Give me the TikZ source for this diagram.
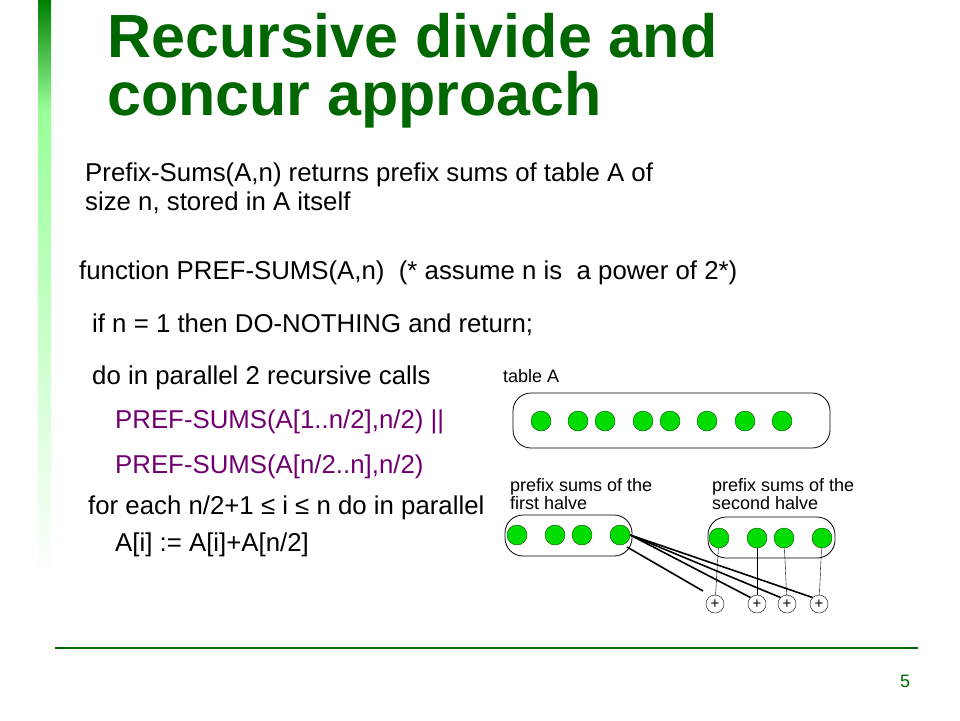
\documentclass[tikz,border=0pt]{standalone}
\usepackage{fontspec}
\setmainfont{Liberation Sans}
\definecolor{tgreen}{RGB}{0,102,0}
\definecolor{pur}{RGB}{112,0,112}
\definecolor{dotg}{RGB}{0,220,0}
\begin{document}
\begin{tikzpicture}[x=1pt,y=-1pt,
  txt/.style={anchor=west,inner sep=0,font=\fontsize{25.8}{28}\selectfont},
  dot/.style={circle,draw=black!70!green,fill=dotg,minimum size=20pt,inner sep=0},
  pl/.style={circle,draw,fill=white,minimum size=18pt,inner sep=0,font=\fontsize{15}{15}\selectfont},
  box/.style={draw,rounded corners=18pt,line width=0.8pt},
  small/.style={anchor=west,inner sep=0,font=\fontsize{18}{18}\selectfont},
  link/.style={line width=1.6pt}]
\useasboundingbox (0,0) rectangle (960,720);
\fill[top color=green!50!black, bottom color=green!40] (38,0) rectangle (51,110);
\fill[top color=green!40, bottom color=white] (38,110) rectangle (51,580);
\node[anchor=west,inner sep=0,text=tgreen,font=\fontsize{61}{61}\selectfont\bfseries] (t1) at (107,36) {Recursive divide and};
\node[anchor=west,inner sep=0,text=tgreen,font=\fontsize{61}{61}\selectfont\bfseries] (t2) at (107,100) {concur approach};
\node[txt] (l1) at (85,175) {Prefix-Sums(A,n) returns prefix sums of table A of};
\node[txt] (l2) at (85,203) {size n, stored in A itself};
\node[txt] (l3) at (79,273) {function PREF-SUMS(A,n)\ \ (* assume n is\ \ a power of 2*)};
\node[txt] (l4) at (92,325) {if n = 1 then DO-NOTHING and return;};
\node[txt] (l5) at (92,378) {do in parallel 2 recursive calls};
\node[txt,text=pur] (l6) at (115,422) {PREF-SUMS(A[1..n/2],n/2) ||};
\node[txt,text=pur] (l7) at (115,467) {PREF-SUMS(A[n/2..n],n/2)};
\node[txt] (l8) at (88,508) {for each n/2+1 ≤ i ≤ n do in parallel};
\node[txt] (l9) at (115,545) {A[i] := A[i]+A[n/2]};
\draw[tgreen,line width=2.5pt] (55,648) -- (918,648);
\node[inner sep=0,font=\fontsize{18}{18}\selectfont,text=tgreen] (pg) at (905,681) {5};
% diagram
\node[small] (ta) at (503,376) {table A};
\draw[box] (513,393) rectangle (830,448);
\foreach \x [count=\i] in {541,578,605,643,670,707,745,782} \node[dot] (a\i) at (\x,421) {};
\node[small,align=left,anchor=north west] (fh) at (510,478) {prefix sums of the\\first halve};
\node[small,align=left,anchor=north west] (sh) at (712,478) {prefix sums of the\\second halve};
\draw[box] (505,515) rectangle (632,556);
\draw[box] (708,517) rectangle (835,558);
\foreach \x [count=\i] in {517,555,582,620} \node[dot] (f\i) at (\x,535) {};
\foreach \x [count=\i] in {719,757,784,822} \node[dot] (s\i) at (\x,538) {};
\foreach \x [count=\i] in {715,757,787,819} \node[pl] (p\i) at (\x,604) {+};
\foreach \i in {1,...,4} \draw (s\i) -- (p\i);
\coordinate (c1) at (703,591);
\coordinate (c0) at (627,547);
\draw[link] (c1) -- (c0);
\draw[link] (f4.east) -- (p2.north west);
\draw[link] (f4.east) -- (p3.north west);
\draw[link] (f4.east) -- (p4.north west);
\end{tikzpicture}
\end{document}
